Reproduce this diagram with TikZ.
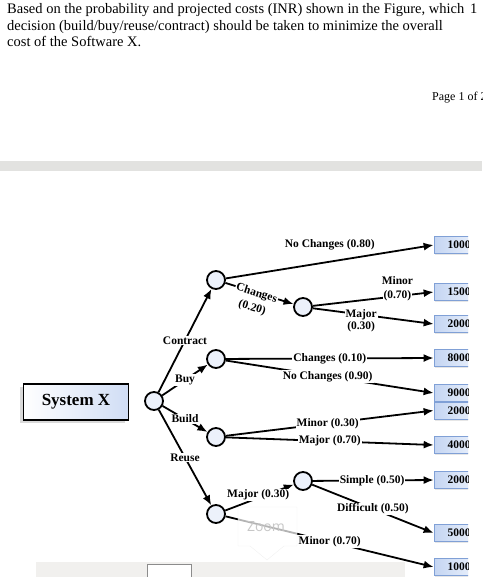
\documentclass[tikz,border=0pt]{standalone}
\usepackage{fontspec}
\setmainfont{Liberation Serif}
\newfontfamily\zoomfont{Open Sans}
\usetikzlibrary{arrows.meta,shadows}
\definecolor{nodefill}{RGB}{236,241,251}
\definecolor{costline}{RGB}{128,160,214}
\definecolor{costleft}{RGB}{196,213,242}
\definecolor{costright}{RGB}{243,247,254}
\definecolor{sysright}{RGB}{208,221,245}
\definecolor{barfill}{RGB}{226,226,224}
\definecolor{footfill}{RGB}{241,240,238}
\begin{document}
\begin{tikzpicture}[x=1pt,y=-1pt]
\tikzset{chance/.style={circle,draw,line width=1.8pt,fill=nodefill,minimum size=18pt,inner sep=0pt},
         cost/.style={draw=costline,line width=0.7pt,left color=costleft,right color=costright,minimum width=50pt,minimum height=17pt,inner sep=0pt,font=\bfseries\fontsize{11.5}{12}\selectfont,drop shadow={opacity=0.2,shadow xshift=0.5pt,shadow yshift=-1.5pt}},
         branch/.style={line width=1.8pt,-{Latex[length=10pt,width=8pt]}},
         lab/.style={fill=white,inner sep=1pt,font=\bfseries\fontsize{11.5}{12}\selectfont},
         txt/.style={inner sep=0pt,anchor=base west,font=\fontsize{14.5}{17}\selectfont}}
\clip (0,0) rectangle (482,577);
\node[txt] (q1) at (7,14) {Based on the probability and projected costs (INR) shown in the Figure, which};
\node[txt] (q2) at (7,30.5) {decision (build/buy/reuse/contract) should be taken to minimize the overall};
\node[txt] (q3) at (7,47) {cost of the Software X.};
\node[txt] (pgno) at (470,14) {1};
\node[txt,font=\fontsize{12}{14}\selectfont] (page) at (432,101) {Page 1 of 2};
\fill[barfill] (0,161) rectangle (482,171);
\begin{scope}
\clip (0,172) rectangle (468,577);
\node[draw,line width=1.8pt,left color=white,right color=sysright,minimum width=105pt,minimum height=36pt,font=\bfseries\fontsize{17}{20}\selectfont,drop shadow={opacity=0.3,shadow xshift=-4pt,shadow yshift=-3pt}] (sys) at (76,402) {System X};
\node[chance] (root) at (154,401) {};
\node[chance] (con) at (216,280) {};
\node[chance] (chg) at (303,307) {};
\node[chance] (buy) at (216,359) {};
\node[chance] (bld) at (216,437) {};
\node[chance] (reu) at (216,514) {};
\node[chance] (maj) at (303,481) {};
\node[cost] (c1) at (459,245) {1000};
\node[cost] (c2) at (459,292) {1500};
\node[cost] (c3) at (459,324) {2000};
\node[cost] (c4) at (459,358) {8000};
\node[cost] (c5) at (459,393) {9000};
\node[cost] (c6) at (459,410.5) {2000};
\node[cost] (c7) at (459,445) {4000};
\node[cost] (c8) at (459,480) {2000};
\node[cost] (c9) at (459,533) {5000};
\node[cost] (c10) at (459,567) {1000};
\draw[branch] (root) -- (con) node[lab,pos=.5] {Contract};
\draw[branch] (root) -- (buy) node[lab,pos=.5] {Buy};
\draw[branch] (root) -- (bld) node[lab,pos=.5] {Build};
\draw[branch] (root) -- (reu) node[lab,pos=.5] {Reuse};
\draw[branch] (con) -- (c1.west) node[lab,fill=none,pos=.5,above=10pt] {No Changes (0.80)};
\draw[branch] (con) -- (chg) node[lab,sloped,pos=.46,yshift=-1pt] {Changes} node[lab,fill=none,sloped,pos=.46,below=9pt] {(0.20)};
\draw[branch] (chg) -- (c2.west) node[lab,pos=.7] {(0.70)} node[lab,fill=none,pos=.7,above=10pt] {Minor};
\draw[branch] (chg) -- (c3.west) node[lab,pos=.4] {Major} node[lab,fill=none,pos=.4,below=5pt] {(0.30)};
\draw[branch] (buy) -- (c4.west) node[lab,pos=.5] {Changes (0.10)};
\draw[branch] (buy) -- (c5.west) node[lab,pos=.49] {No Changes (0.90)};
\draw[branch] (bld) -- (c6.west) node[lab,pos=.49] {Minor (0.30)};
\draw[branch] (bld) -- (c7.west) node[lab,pos=.5] {Major (0.70)};
\draw[branch] (reu) -- (maj) node[lab,pos=.48,yshift=3pt] {Major (0.30)};
\draw[branch] (maj) -- (c8.west) node[lab,pos=.49] {Simple (0.50)};
\draw[branch] (maj) -- (c9.west) node[lab,pos=.5] {Difficult (0.50)};
\draw[branch] (reu) -- (c10.west) node[lab,pos=.5] {Minor (0.70)};
\end{scope}
\fill[white,opacity=.7,draw=black!8] (238,507) -- (297,507) -- (297,546) -- (284,546) -- (267,560) -- (250,546) -- (238,546) -- cycle;
\node[font=\zoomfont\fontsize{14}{14}\selectfont,text=black!22] (zoom) at (266,527) {Zoom};
\fill[footfill] (36,562) rectangle (405,577);
\draw[black!45,fill=white,line width=0.8pt] (147,564) rectangle (191,580);
\end{tikzpicture}
\end{document}
